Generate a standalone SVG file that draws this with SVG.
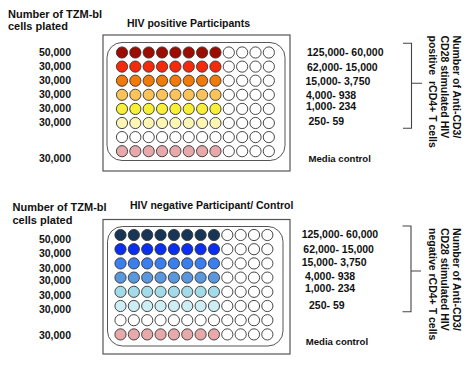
<svg xmlns="http://www.w3.org/2000/svg" xmlns:xlink="http://www.w3.org/1999/xlink" width="474" height="366" viewBox="0 0 474 366">
<style>
text{font-family:"Liberation Sans",Arial,sans-serif;font-weight:bold;fill:#111;font-size:10.5px}
.r{text-anchor:end}
.mc{font-size:9.6px}
.plate{fill:#fff;stroke:#555;stroke-width:1.2}
.inner{fill:none;stroke:#555;stroke-width:1}
.br{fill:none;stroke:#444;stroke-width:1.1}
circle{stroke:#333;stroke-width:0.9}
</style>
<defs>
<g id="row">
<circle cx="0" cy="0" r="5.6"/><circle cx="13.35" cy="0" r="5.6"/><circle cx="26.7" cy="0" r="5.6"/><circle cx="40.05" cy="0" r="5.6"/>
<circle cx="53.4" cy="0" r="5.6"/><circle cx="66.75" cy="0" r="5.6"/><circle cx="80.1" cy="0" r="5.6"/><circle cx="93.45" cy="0" r="5.6"/>
<circle cx="106.8" cy="0" r="5.6" fill="#fff"/><circle cx="120.15" cy="0" r="5.6" fill="#fff"/><circle cx="133.5" cy="0" r="5.6" fill="#fff"/><circle cx="146.85" cy="0" r="5.6" fill="#fff"/>
</g>
</defs>
<rect width="474" height="366" fill="#fff"/>

<g id="top-panel">
<text x="8" y="18" font-size="11" style="font-size:11px">Number of TZM-bl</text>
<text x="8" y="30" style="font-size:11px">cells plated</text>
<text x="127" y="27">HIV positive Participants</text>
<rect class="plate" x="103" y="35" width="187" height="136"/>
<rect class="inner" x="107" y="42.5" width="178" height="118" rx="15"/>
<use xlink:href="#row" x="122" y="52.5" fill="#9b0d00"/>
<use xlink:href="#row" x="122" y="66.6" fill="#f52a0a"/>
<use xlink:href="#row" x="122" y="80.7" fill="#f07a0a"/>
<use xlink:href="#row" x="122" y="94.8" fill="#fbc35a"/>
<use xlink:href="#row" x="122" y="108.9" fill="#f7ef3a"/>
<use xlink:href="#row" x="122" y="123" fill="#fdf6b5"/>
<use xlink:href="#row" x="122" y="137.1" fill="#fff"/>
<use xlink:href="#row" x="122" y="151.2" fill="#e8a9aa"/>
<text class="r" x="71" y="56">50,000</text>
<text class="r" x="71" y="70.3">30,000</text>
<text class="r" x="71" y="84">30,000</text>
<text class="r" x="71" y="98">30,000</text>
<text class="r" x="71" y="112">30,000</text>
<text class="r" x="71" y="125.7">30,000</text>
<text class="r" x="71" y="162">30,000</text>
<text x="307" y="56">125,000- 60,000</text>
<text x="307" y="71.3">62,000- 15,000</text>
<text x="305.5" y="84.6">15,000- 3,750</text>
<text x="306" y="99">4,000- 938</text>
<text x="306" y="110.3">1,000- 234</text>
<text x="308.5" y="125.3">250- 59</text>
<text class="mc" x="308.5" y="162">Media control</text>
<path class="br" d="M403,43.3H411.5V128.3H403M411.5,83.3H422"/>
<text transform="translate(453,35.5) rotate(90)"><tspan x="0" y="0">Number of Anti-CD3/</tspan><tspan x="0" y="12">CD28 stimulated HIV</tspan><tspan x="0" y="24" xml:space="preserve">positive  rCD4+ T cells</tspan></text>
</g>

<g id="bottom-panel">
<text x="12.5" y="211" style="font-size:11px">Number of TZM-bl</text>
<text x="12.5" y="223.5" style="font-size:11px">cells plated</text>
<text x="130" y="208.7">HIV negative Participant/ Control</text>
<rect class="plate" x="103" y="219.5" width="187" height="134.5"/>
<rect class="inner" x="107.5" y="226.5" width="175.5" height="119.5" rx="15"/>
<use xlink:href="#row" x="120.5" y="235" fill="#173556"/>
<use xlink:href="#row" x="120.5" y="249.2" fill="#0b2ef5"/>
<use xlink:href="#row" x="120.5" y="263.4" fill="#3b7ef0"/>
<use xlink:href="#row" x="120.5" y="277.6" fill="#5b97dc"/>
<use xlink:href="#row" x="120.5" y="291.8" fill="#a3dce8"/>
<use xlink:href="#row" x="120.5" y="306" fill="#cdeef4"/>
<use xlink:href="#row" x="120.5" y="320.2" fill="#fff"/>
<use xlink:href="#row" x="120.5" y="334.4" fill="#e8a9aa"/>
<text class="r" x="71" y="243">50,000</text>
<text class="r" x="71" y="257">30,000</text>
<text class="r" x="71" y="272">30,000</text>
<text class="r" x="71" y="284.3">30,000</text>
<text class="r" x="71" y="299.3">30,000</text>
<text class="r" x="71" y="313">30,000</text>
<text class="r" x="71" y="339.3">30,000</text>
<text x="301.7" y="238">125,000- 60,000</text>
<text x="303.3" y="253">62,000- 15,000</text>
<text x="301.7" y="266.3">15,000- 3,750</text>
<text x="305" y="280.3">4,000- 938</text>
<text x="305" y="292.3">1,000- 234</text>
<text x="309" y="309.3">250- 59</text>
<text class="mc" x="305.7" y="344.5">Media control</text>
<path class="br" d="M402.5,226H411V311.7H402.5M411,271H421"/>
<text transform="translate(453,228) rotate(90)"><tspan x="0" y="0">Number of Anti-CD3/</tspan><tspan x="0" y="12">CD28 stimulated HIV</tspan><tspan x="0" y="24">negative rCD4+ T cells</tspan></text>
</g>
</svg>
